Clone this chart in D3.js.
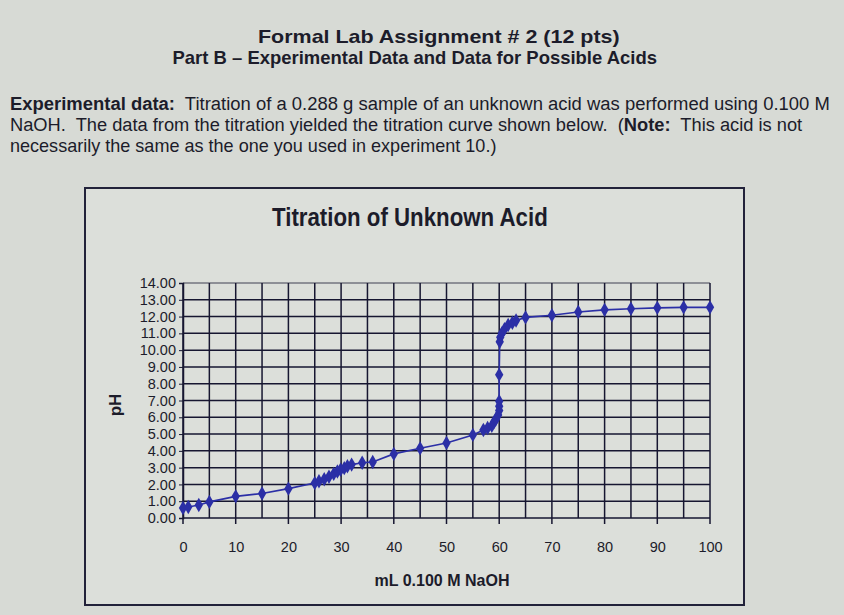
<!DOCTYPE html>
<html><head><meta charset="utf-8">
<script src="https://cdn.jsdelivr.net/npm/d3@7"></script>
<style>
html,body{margin:0;padding:0;background:#d7dad5;}
svg{display:block;}
text{font-family:"Liberation Sans",Arial,sans-serif;fill:#1c1c2a;}
</style></head>
<body>
<svg id="c" width="844" height="615"></svg>
<script>
// ---- data ----
const volumeML = [0, 1, 3, 5, 10, 15, 20, 25, 25.8, 26.8, 27.7, 28.6, 29.3, 29.9, 30.6, 31.2, 32, 34, 36, 40, 45, 50, 55, 57, 57.8, 58.6, 59, 59.4, 59.8, 60, 60, 60, 60, 60.1, 60.2, 60.5, 61, 61.7, 62.5, 63.2, 65, 70, 75, 80, 85, 90, 95, 100];
const pHValues = [0.6, 0.66, 0.77, 0.96, 1.29, 1.46, 1.75, 2.08, 2.19, 2.31, 2.46, 2.63, 2.77, 2.87, 2.97, 3.08, 3.18, 3.29, 3.34, 3.82, 4.15, 4.47, 4.95, 5.24, 5.36, 5.5, 5.7, 5.9, 6.14, 6.4, 6.66, 6.96, 8.54, 10.5, 10.77, 11.0, 11.25, 11.5, 11.63, 11.77, 11.95, 12.08, 12.27, 12.4, 12.47, 12.52, 12.55, 12.55];
const xTickValues = [0, 10, 20, 30, 40, 50, 60, 70, 80, 90, 100];
const xGridValues = [0, 5, 10, 15, 20, 25, 30, 35, 40, 45, 50, 55, 60, 65, 70, 75, 80, 85, 90, 95, 100];
const yTickValues = [0, 1, 2, 3, 4, 5, 6, 7, 8, 9, 10, 11, 12, 13, 14];

const headerLines = ["Formal Lab Assignment # 2 (12 pts)", "Part B \u2013 Experimental Data and Data for Possible Acids"];
const paraLines = [
  [["Experimental data:", true], ["  Titration of a 0.288 g sample of an unknown acid was performed using 0.100 M", false]],
  [["NaOH.  The data from the titration yielded the titration curve shown below.  (", false], ["Note:", true], ["  This acid is not", false]],
  [["necessarily the same as the one you used in experiment 10.)", false]]
];
const chartTitle = "Titration of Unknown Acid";
const xTitle = "mL 0.100 M NaOH";
const yTitle = "pH";

const svg = d3.select("#c");
const narrow = "'Liberation Sans Narrow','Liberation Sans',Arial,sans-serif";

function fitText(sel, x0, y, target, anchor) {
  const w = sel.node().getComputedTextLength();
  const s = target / w;
  const tx = anchor === "middle" ? x0 - target / 2 : x0;
  sel.attr("x", 0).attr("y", 0).attr("transform", `translate(${tx},${y}) scale(${s},1)`);
}

// header
const h1 = svg.append("text").style("font-family", narrow).attr("font-weight", "bold").attr("font-size", 18).text(headerLines[0]);
fitText(h1, 439, 43, 362, "middle");
const h2 = svg.append("text").style("font-family", narrow).attr("font-weight", "bold").attr("font-size", 18).text(headerLines[1]);
fitText(h2, 415, 64, 485, "middle");

const paraTargets = [820, 793, 487];
const paraY = [110, 131, 152];
paraLines.forEach((parts, i) => {
  const t = svg.append("text").attr("font-size", 19).attr("xml:space", "preserve").style("white-space", "pre");
  parts.forEach(p => t.append("tspan").attr("font-weight", p[1] ? "bold" : "normal").text(p[0]));
  fitText(t, 10, paraY[i], paraTargets[i], "start");
});

// chart frame
svg.append("rect").attr("x", 85).attr("y", 188).attr("width", 659).attr("height", 417)
  .attr("fill", "#dcdfda").attr("stroke", "#22223a").attr("stroke-width", 2);

const ct = svg.append("text").style("font-family", narrow).attr("font-weight", "bold").attr("font-size", 25).text(chartTitle);
fitText(ct, 410, 226, 276, "middle");

// scales
const x = d3.scaleLinear().domain([0, 100]).range([183, 710]);
const y = d3.scaleLinear().domain([0, 14]).range([518, 283]);

const g = svg.append("g");
// grid
g.selectAll("line.hg").data(yTickValues).join("line").attr("class", "hg")
  .attr("x1", x(0)).attr("x2", x(100)).attr("y1", d => y(d)).attr("y2", d => y(d))
  .attr("stroke", "#161630").attr("stroke-width", d => d === 14 ? 0.8 : 1.5);
g.selectAll("line.vg").data(xGridValues).join("line").attr("class", "vg")
  .attr("x1", d => x(d)).attr("x2", d => x(d)).attr("y1", y(14))
  .attr("y2", d => d % 10 === 0 ? y(0) + 6 : y(0))
  .attr("stroke", "#161630").attr("stroke-width", 1.5);

// y axis
const yAxis = d3.axisLeft(y).tickValues(yTickValues).tickFormat(d3.format(".2f")).tickSize(4).tickPadding(3);
const ya = svg.append("g").attr("transform", `translate(${x(0)},0)`).call(yAxis);
ya.select(".domain").attr("stroke", "#161630").attr("stroke-width", 1.5);
ya.selectAll(".tick line").attr("stroke", "#161630");
ya.selectAll(".tick text").attr("font-size", 14.5).attr("font-family", "Liberation Sans, Arial, sans-serif").attr("fill", "#22222e");

// x axis labels
const xAxis = d3.axisBottom(x).tickValues(xTickValues).tickFormat(d3.format("d")).tickSize(0).tickPadding(24);
const xa = svg.append("g").attr("transform", `translate(0,${y(0)})`).call(xAxis);
xa.select(".domain").remove();
xa.selectAll(".tick text").attr("font-size", 14.5).attr("font-family", "Liberation Sans, Arial, sans-serif").attr("fill", "#2a2a36");

// axis titles
svg.append("text").attr("font-weight", "bold").attr("font-size", 17).attr("text-anchor", "middle")
  .attr("transform", `translate(121,405) rotate(-90)`).text(yTitle);
svg.append("text").attr("font-weight", "bold").attr("font-size", 16).attr("text-anchor", "middle")
  .attr("x", 442).attr("y", 586).text(xTitle);

// series
const pts = volumeML.map((v, i) => [v, pHValues[i]]);
svg.append("path").datum(pts)
  .attr("d", d3.line().x(d => x(d[0])).y(d => y(d[1])))
  .attr("fill", "none").attr("stroke", "#2b2fa6").attr("stroke-width", 1.6);
svg.selectAll("path.m").data(pts).join("path").attr("class", "m")
  .attr("d", d3.symbol(d3.symbolDiamond, 60))
  .attr("transform", d => `translate(${x(d[0])},${y(d[1])})`)
  .attr("fill", "#2b2fa6");
</script>
</body></html>
